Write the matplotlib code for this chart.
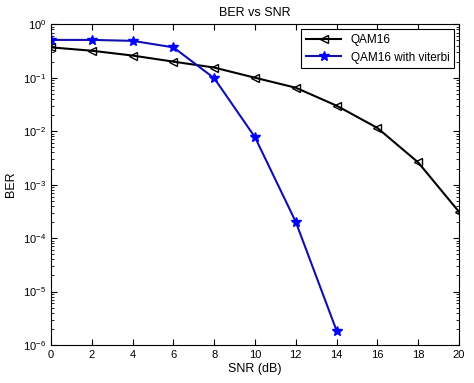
import numpy as np
import matplotlib.pyplot as plt

plt.rcParams['font.family'] = ['Liberation Sans', 'DejaVu Sans']

snr = [0, 2, 4, 6, 8, 10, 12, 14, 16, 18, 20]
ber_qam = [0.37, 0.32, 0.26, 0.20, 0.155, 0.10, 0.065, 0.030, 0.0115, 0.0026, 0.00031]

snr_vit = [0, 2, 4, 6, 8, 10, 12, 14]
ber_vit = [0.51, 0.51, 0.49, 0.37, 0.098, 0.0077, 0.0002, 1.85e-6]

fig = plt.figure(figsize=(4.74, 3.83), dpi=100)
ax = fig.add_axes([0.1076, 0.0992, 0.8608, 0.8374])

ax.semilogy(snr, ber_qam, 'k-', marker='<', mfc='none', ms=6, lw=1.5, label='QAM16')
ax.semilogy(snr_vit, ber_vit, '-', color='#1010b0', marker='*', mfc='#0000ff', mec='#0000ff',
            ms=7, lw=1.5, label='QAM16 with viterbi')

ax.set_xlim(0, 20)
ax.set_ylim(1e-6, 1)
ax.set_xticks(np.arange(0, 21, 2))
ax.set_yticks([1e-6, 1e-5, 1e-4, 1e-3, 1e-2, 1e-1, 1])
ax.tick_params(which='both', direction='in', top=True, right=True, labelsize=8)
ax.tick_params(which='major', length=4)
ax.tick_params(which='minor', length=2)

ax.set_title('BER vs SNR', fontsize=9)
ax.set_xlabel('SNR (dB)', fontsize=9, labelpad=2)
ax.set_ylabel('BER', fontsize=9)

leg = ax.legend(loc='upper right', fontsize=8.5, fancybox=False, framealpha=1,
                edgecolor='black', borderaxespad=0.4, handlelength=3)
leg.get_frame().set_linewidth(0.8)

fig.savefig('out.png', dpi=100)
